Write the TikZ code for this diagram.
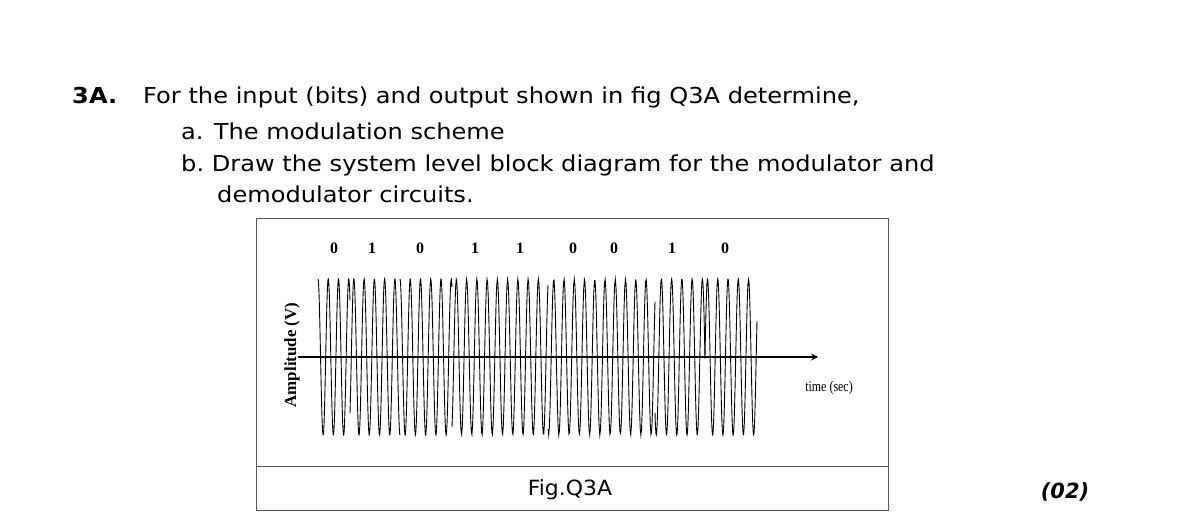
\documentclass[tikz,border=0pt]{standalone}
\usepackage{fontspec}
\setmainfont{DejaVu Sans}
\newfontfamily\timesf{Liberation Serif}
\begin{document}
\begin{tikzpicture}[x=1bp,y=-1bp,
  body/.style={anchor=base west,inner sep=0pt,xscale=1.1,font=\fontsize{22}{24}\selectfont},
  bit/.style={font=\timesf\fontsize{16}{17}\selectfont,inner sep=0pt}]
\useasboundingbox (0,0) rectangle (1188,514);
\node[body] (q) at (72,104) {\textbf{3A.}};
\node[body] (l1) at (143,104) {For the input (bits) and output shown in fig Q3A determine,};
\node[body] (l2) at (181,140) {a. The modulation scheme};
\node[body] (l3) at (181,172) {b.\ Draw\ the\ system\ level\ block\ diagram\ for\ the\ modulator\ and};
\node[body] (l4) at (217,203) {demodulator circuits.};
\draw[gray!70!black,line width=1pt] (256,219) rectangle (888,510);
\draw[gray!70!black,line width=1pt] (256,466) -- (888,466);
\node[font=\fontsize{21}{23}\selectfont,xscale=1.05] (cap) at (570,490) {Fig.Q3A};
\node[font=\fontsize{21}{23}\selectfont\bfseries\itshape] (mk) at (1065,492) {(02)};
\foreach \x/\b [count=\i] in {334/0,372/1,420/0,475/1,520/1,573/0,614/0,672/1,725/0}
  \node[bit] (b\i) at (\x,248) {\textbf{\b}};
\foreach \a/\c/\s in {318/350/1,350/400/-1,400/452/1,452/548/-1,548/655/1,655/705/-1,705/757/1}
  \draw[line width=0.9pt] plot[domain=\a:\c,samples=160] (\x,{357-78*\s*cos(35.12*(\x-318))});
\coordinate (ax0) at (298,357);
\coordinate (ax1) at (818,357);
\draw[line width=2pt,-stealth] (ax0) -- (ax1);
\node[font=\timesf\fontsize{15}{16}\selectfont,xscale=0.8] (t) at (829,388) {time (sec)};
\node[font=\timesf\bfseries\fontsize{17}{18}\selectfont,rotate=90] (amp) at (292,355) {Amplitude (V)};
\end{tikzpicture}
\end{document}
